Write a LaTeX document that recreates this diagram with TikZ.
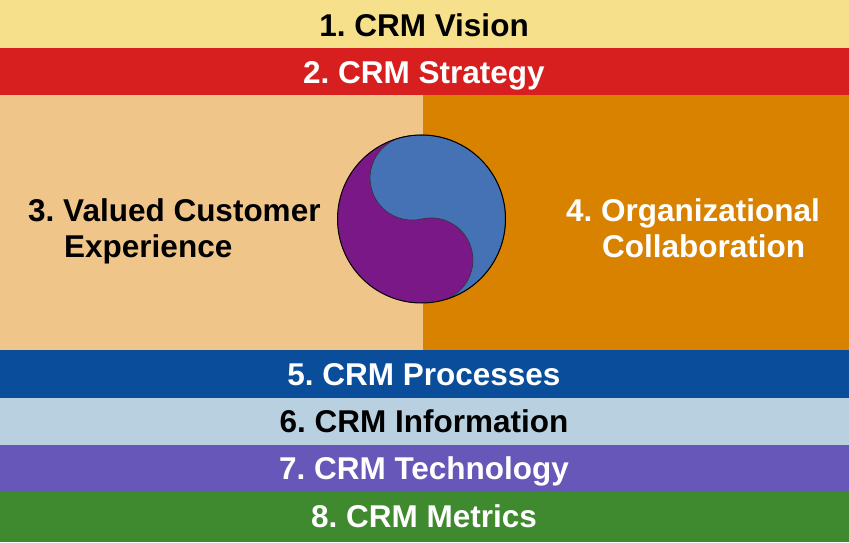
\documentclass[tikz,border=0pt]{standalone}
\usepackage{fontspec}
\setmainfont{Liberation Sans}
\usetikzlibrary{calc}
\definecolor{cyel}{HTML}{F6E08C}
\definecolor{cred}{HTML}{D71F1F}
\definecolor{cpeach}{HTML}{F0C58A}
\definecolor{corange}{HTML}{D88200}
\definecolor{cblue}{HTML}{0A4E9B}
\definecolor{clblue}{HTML}{B8D0E0}
\definecolor{cpurp}{HTML}{6757B8}
\definecolor{cgreen}{HTML}{3F8A2E}
\definecolor{yypurp}{HTML}{7A1888}
\definecolor{yyblue}{HTML}{4472B4}
\frenchspacing
\begin{document}
\begin{tikzpicture}[x=1pt,y=1pt,
  lbl/.style={font=\bfseries\fontsize{31.5}{37}\selectfont,inner sep=0pt,anchor=base}]
\useasboundingbox (0,0) rectangle (849,542);
\fill[cyel] (0,494) rectangle (849,542);
\fill[cred] (0,447) rectangle (849,494);
\fill[cpeach] (0,192) rectangle (423,447);
\fill[corange] (423,192) rectangle (849,447);
\fill[cblue] (0,144) rectangle (849,192);
\fill[clblue] (0,97) rectangle (849,144);
\fill[cpurp] (0,50) rectangle (849,97);
\fill[cgreen] (0,0) rectangle (849,50);
\node[lbl] (v1) at (424,505) {1. CRM Vision};
\node[lbl,white] (v2) at (424,458) {2. CRM Strategy};
\node[lbl,anchor=base west] (v3a) at (28,320) {3. Valued Customer};
\node[lbl,anchor=base west] (v3b) at (64,285) {Experience};
\node[lbl,white,anchor=base west] (v4a) at (566,320) {4. Organizational};
\node[lbl,white,anchor=base west] (v4b) at (602,285) {Collaboration};
\node[lbl,white] (v5) at (424,157) {5. CRM Processes};
\node[lbl] (v6) at (424,110) {6. CRM Information};
\node[lbl,white] (v7) at (424,63) {7. CRM Technology};
\node[lbl,white] (v8) at (424,15) {8. CRM Metrics};
\coordinate (C) at (421.5,323);
\fill[yypurp] (C) circle[radius=84];
\filldraw[fill=yyblue,draw=black!80,line width=0.6pt]
  ($(C)+(103:84)$) arc[start angle=103,end angle=-77,radius=84]
  arc[start angle=-77,end angle=103,radius=42]
  arc[start angle=-77,end angle=-257,radius=42] -- cycle;
\draw[black,line width=1pt] (C) circle[radius=84];
\end{tikzpicture}
\end{document}
